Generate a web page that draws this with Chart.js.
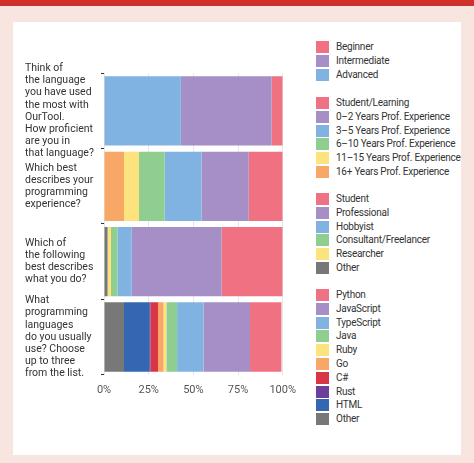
<!DOCTYPE html>
<html><head><meta charset="utf-8">
<script src="https://cdn.jsdelivr.net/npm/chart.js@4/dist/chart.umd.min.js"></script>
<style>
body{margin:0;width:474px;height:463px;background:#f9e5df;position:relative;overflow:hidden;font-family:Roboto,sans-serif}
#top{position:absolute;left:0;top:0;width:474px;height:6px;background:#d0302b}
#panel{position:absolute;left:13px;top:22px;width:448px;height:433px;background:#fff}
#wrap{position:absolute;left:0;top:22px;width:305px;height:410px}
#legend{position:absolute;left:316px;top:0;font-size:10px;letter-spacing:-0.25px;color:#333}
.it{position:absolute;left:0;white-space:nowrap;height:12px;line-height:12px}
.it span{display:inline-block;width:13px;height:12px;vertical-align:top;margin-right:7px}
</style></head><body>
<div id="top"></div><div id="panel"></div>
<div id="wrap"><canvas id="c"></canvas></div>
<div id="legend"></div>
<script>
const categories=[
 ["Think of","the language","you have used","the most with","OurTool.","How proficient","are you in","that language?"],
 ["Which best","describes your","programming","experience?"],
 ["Which of","the following","best describes","what you do?"],
 ["What","programming","languages","do you usually","use? Choose","up to three","from the list."]];
const tickLabels=["0%","25%","50%","75%","100%"];
const proficiencyLabels=["Beginner","Intermediate","Advanced"];
const proficiencyValues=[6.2,50.8,43];
const proficiencyColors=["#f07282","#a58fc6","#80b3e1"];
const experienceLabels=["Student/Learning","0–2 Years Prof. Experience","3–5 Years Prof. Experience","6–10 Years Prof. Experience","11–15 Years Prof. Experience","16+ Years Prof. Experience"];
const experienceValues=[19,26.4,20.6,14.4,8.4,11.2];
const experienceColors=["#f07282","#a58fc6","#80b3e1","#90cd91","#fde37e","#f8a866"];
const roleLabels=["Student","Professional","Hobbyist","Consultant/Freelancer","Researcher","Other"];
const roleValues=[34.2,50.3,8,3.6,1.9,2];
const roleColors=["#f07282","#a58fc6","#80b3e1","#90cd91","#fde37e","#777777"];
const langLabels=["Python","JavaScript","TypeScript","Java","Ruby","Go","C#","Rust","HTML","Other"];
const langValues=[17.6,26,14.8,6,1.6,3,4.3,0.7,14.1,11.2];
const langColors=["#f07282","#a58fc6","#80b3e1","#90cd91","#fde37e","#f8a866","#d83545","#6b3f9b","#3467b1","#787878"];

const groups=[[proficiencyLabels,proficiencyValues,proficiencyColors],[experienceLabels,experienceValues,experienceColors],[roleLabels,roleValues,roleColors],[langLabels,langValues,langColors]];
const datasets=[];
groups.forEach((g,gi)=>{
  for(let i=g[0].length-1;i>=0;i--){
    const d=[null,null,null,null]; d[gi]=g[1][i];
    datasets.push({label:g[0][i],data:d,backgroundColor:g[2][i],stack:'s',barPercentage:0.92,categoryPercentage:1,borderWidth:0});
  }
});
const lg=document.getElementById('legend');
const starts=[41,97,193,289];
groups.forEach((g,gi)=>{g[0].forEach((l,i)=>{
  const e=document.createElement('div');e.className='it';e.style.top=(starts[gi]+i*13.8)+'px';
  e.innerHTML='<span style="background:'+g[2][i]+'"></span>'+l;lg.appendChild(e);});});

new Chart(document.getElementById('c'),{type:'bar',
 data:{labels:categories,datasets},
 options:{indexAxis:'y',responsive:true,maintainAspectRatio:false,animation:false,
  layout:{padding:{left:25,top:29,bottom:7,right:5}},
  plugins:{legend:{display:false},tooltip:{enabled:false}},
  scales:{
   x:{stacked:true,min:0,max:100,border:{display:false},
      grid:{color:'#e6e6e6',drawTicks:false},
      ticks:{stepSize:25,padding:9,color:'#555',font:{family:'Roboto',size:11},callback:(v,i)=>tickLabels[i]}},
   y:{stacked:true,border:{display:false},
      grid:{drawOnChartArea:false,drawTicks:true,tickLength:3,tickColor:'#333'},
      afterFit:s=>{s.width=79;},
      ticks:{autoSkip:false,crossAlign:'far',padding:9,color:'#333',font:{family:'Roboto',size:10.5,lineHeight:1.15}}}
  }}});
</script></body></html>
